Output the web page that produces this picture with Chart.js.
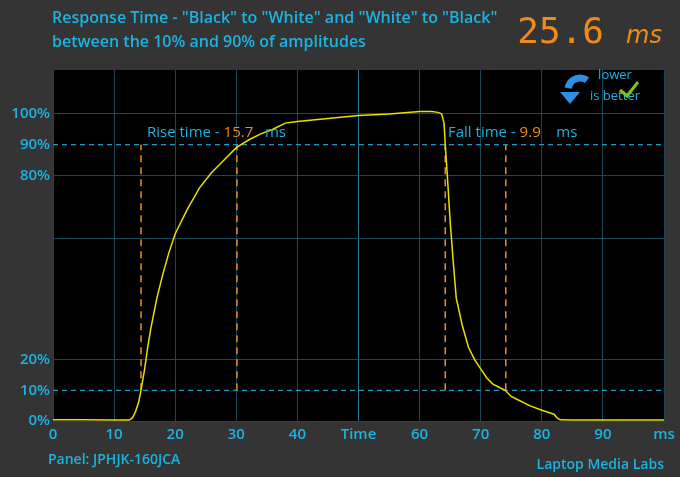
<!DOCTYPE html><html><head><meta charset="utf-8">
<script src="https://cdn.jsdelivr.net/npm/chart.js@4"></script>
<style>html,body{margin:0;background:#343434}#w{width:680px;height:477px}</style></head><body>
<div id="w"><canvas id="c"></canvas></div>
<script>
const timeMs=[0,5,10,12.5,13,13.5,14,14.4,15,15.5,16,17,18,19,20,22,24,26,28,30,32,34,36,38,40,45,50,55,60,62,63,63.6,64,64.2,64.6,65,65.5,66,67,68,69,70,71,72,73,74,75,76,78,80,82,82.5,83,85,90,95,100];
const luminance=[0.4,0.4,0.3,0.3,1,3,6,10,17,24,30,40,48,55,61,69,76,81,85,89,91.5,93.5,95,97,97.5,98.5,99.5,100,100.8,100.8,100.5,100,97,90,78,65,52,40,31,24,20,17,14,12,11,10,8,7,5,3.5,2.2,1,0.4,0.3,0.3,0.3,0.3];
const yTicks=[0,10,20,59.3,80,90,100];
const yLabels={0:'0%',10:'10%',20:'20%',80:'80%',90:'90%',100:'100%'};
const xLabels={0:'0',10:'10',20:'20',30:'30',40:'40',50:'Time',60:'60',70:'70',80:'80',90:'90',100:'ms'};
const markers=[14.4,30.1,64.2,74.1];
const cyan='#1cb3e0', orange='#f08a1c';
const ds=[{data:timeMs.map((t,i)=>({x:t,y:luminance[i]})),borderColor:'#e8e000',borderWidth:1.5,pointRadius:0,tension:0}];
[10,90].forEach(v=>ds.push({data:[{x:0,y:v},{x:100,y:v}],borderColor:'#1a9cc4',borderWidth:1.3,borderDash:[5,4],pointRadius:0}));
markers.forEach(m=>ds.push({data:[{x:m,y:10},{x:m,y:90}],borderColor:orange,borderWidth:1.5,borderDash:[7,5],pointRadius:0}));
const deco={id:'deco',beforeDraw(ch){const c=ch.ctx,a=ch.chartArea;c.save();c.fillStyle='#000';c.fillRect(a.left,a.top,a.right-a.left,a.bottom-a.top);c.restore();},
afterDatasetsDraw(ch){const c=ch.ctx;c.save();c.textBaseline='alphabetic';
c.font='600 16px "Open Sans"';c.fillStyle=cyan;c.textAlign='left';
c.fillText('Response Time - "Black" to "White" and "White" to "Black"',52,23);
c.fillText('between the 10% and 90% of amplitudes',52,47);
c.font='600 14px "Open Sans"';c.fillText('Panel: JPHJK-160JCA',48,464);
c.textAlign='right';c.fillText('Laptop Media Labs',664,469);
c.font='36px "DejaVu Sans Mono"';c.fillStyle=orange;c.fillText('25.6',604,43);
c.font='italic 24px "DejaVu Sans"';c.fillText('ms',662,43);
c.textAlign='left';c.font='15px "Open Sans"';
const seg=(parts,x,y)=>{parts.forEach(([t,col])=>{c.fillStyle=col;c.fillText(t,x,y);x+=c.measureText(t).width;});};
seg([['Rise time - ',cyan],['15.7',orange],['   ms',cyan]],147,137);
seg([['Fall time - ',cyan],['9.9',orange],['    ms',cyan]],448,137);
c.font='13px "Open Sans"';c.fillStyle=cyan;c.textAlign='center';c.fillText('lower',615,79);c.fillText('is better',615,100);
c.fillStyle='#2f8fe0';c.beginPath();c.moveTo(560,92);c.lineTo(580,92);c.lineTo(570,104);c.closePath();c.fill();
c.lineWidth=7;c.strokeStyle='#2f8fe0';c.beginPath();c.arc(580,90,12,Math.PI*1.05,Math.PI*1.7);c.stroke();
c.strokeStyle='#7ac21f';c.lineWidth=3;c.beginPath();c.moveTo(620,90);c.lineTo(627,96);c.lineTo(638,82);c.stroke();
c.restore();}};
new Chart(document.getElementById('c'),{type:'line',data:{datasets:ds},plugins:[deco],
options:{responsive:true,maintainAspectRatio:false,animation:false,
layout:{padding:{left:0,top:70,right:16,bottom:0}},
plugins:{legend:{display:false},tooltip:{enabled:false}},
scales:{x:{type:'linear',min:0,max:100,afterBuildTicks:s=>{s.ticks=[0,10,20,30,40,50,60,70,80,90,100].map(v=>({value:v}));},
afterFit:s=>{s.height=56;},
grid:{color:ctx=>ctx.tick&&ctx.tick.value===50?'#2f7894':'#1c4656',lineWidth:1,drawTicks:false},border:{color:'#1c4656'},
ticks:{color:cyan,font:{size:15,weight:'600',family:'"Open Sans"'},padding:5,maxRotation:0,autoSkip:false,callback:v=>xLabels[v]}},
y:{type:'linear',min:0,max:114.3,afterBuildTicks:s=>{s.ticks=yTicks.map(v=>({value:v}));},afterFit:s=>{s.width=53;},
grid:{color:ctx=>(ctx.tick&&(ctx.tick.value===10||ctx.tick.value===90))?'rgba(0,0,0,0)':'#1c4656',drawTicks:false},border:{color:'#1c4656'},
ticks:{color:cyan,font:{size:15,weight:'600',family:'"Open Sans"'},padding:3,autoSkip:false,callback:v=>yLabels[v]||''}}}}});
</script></body></html>
